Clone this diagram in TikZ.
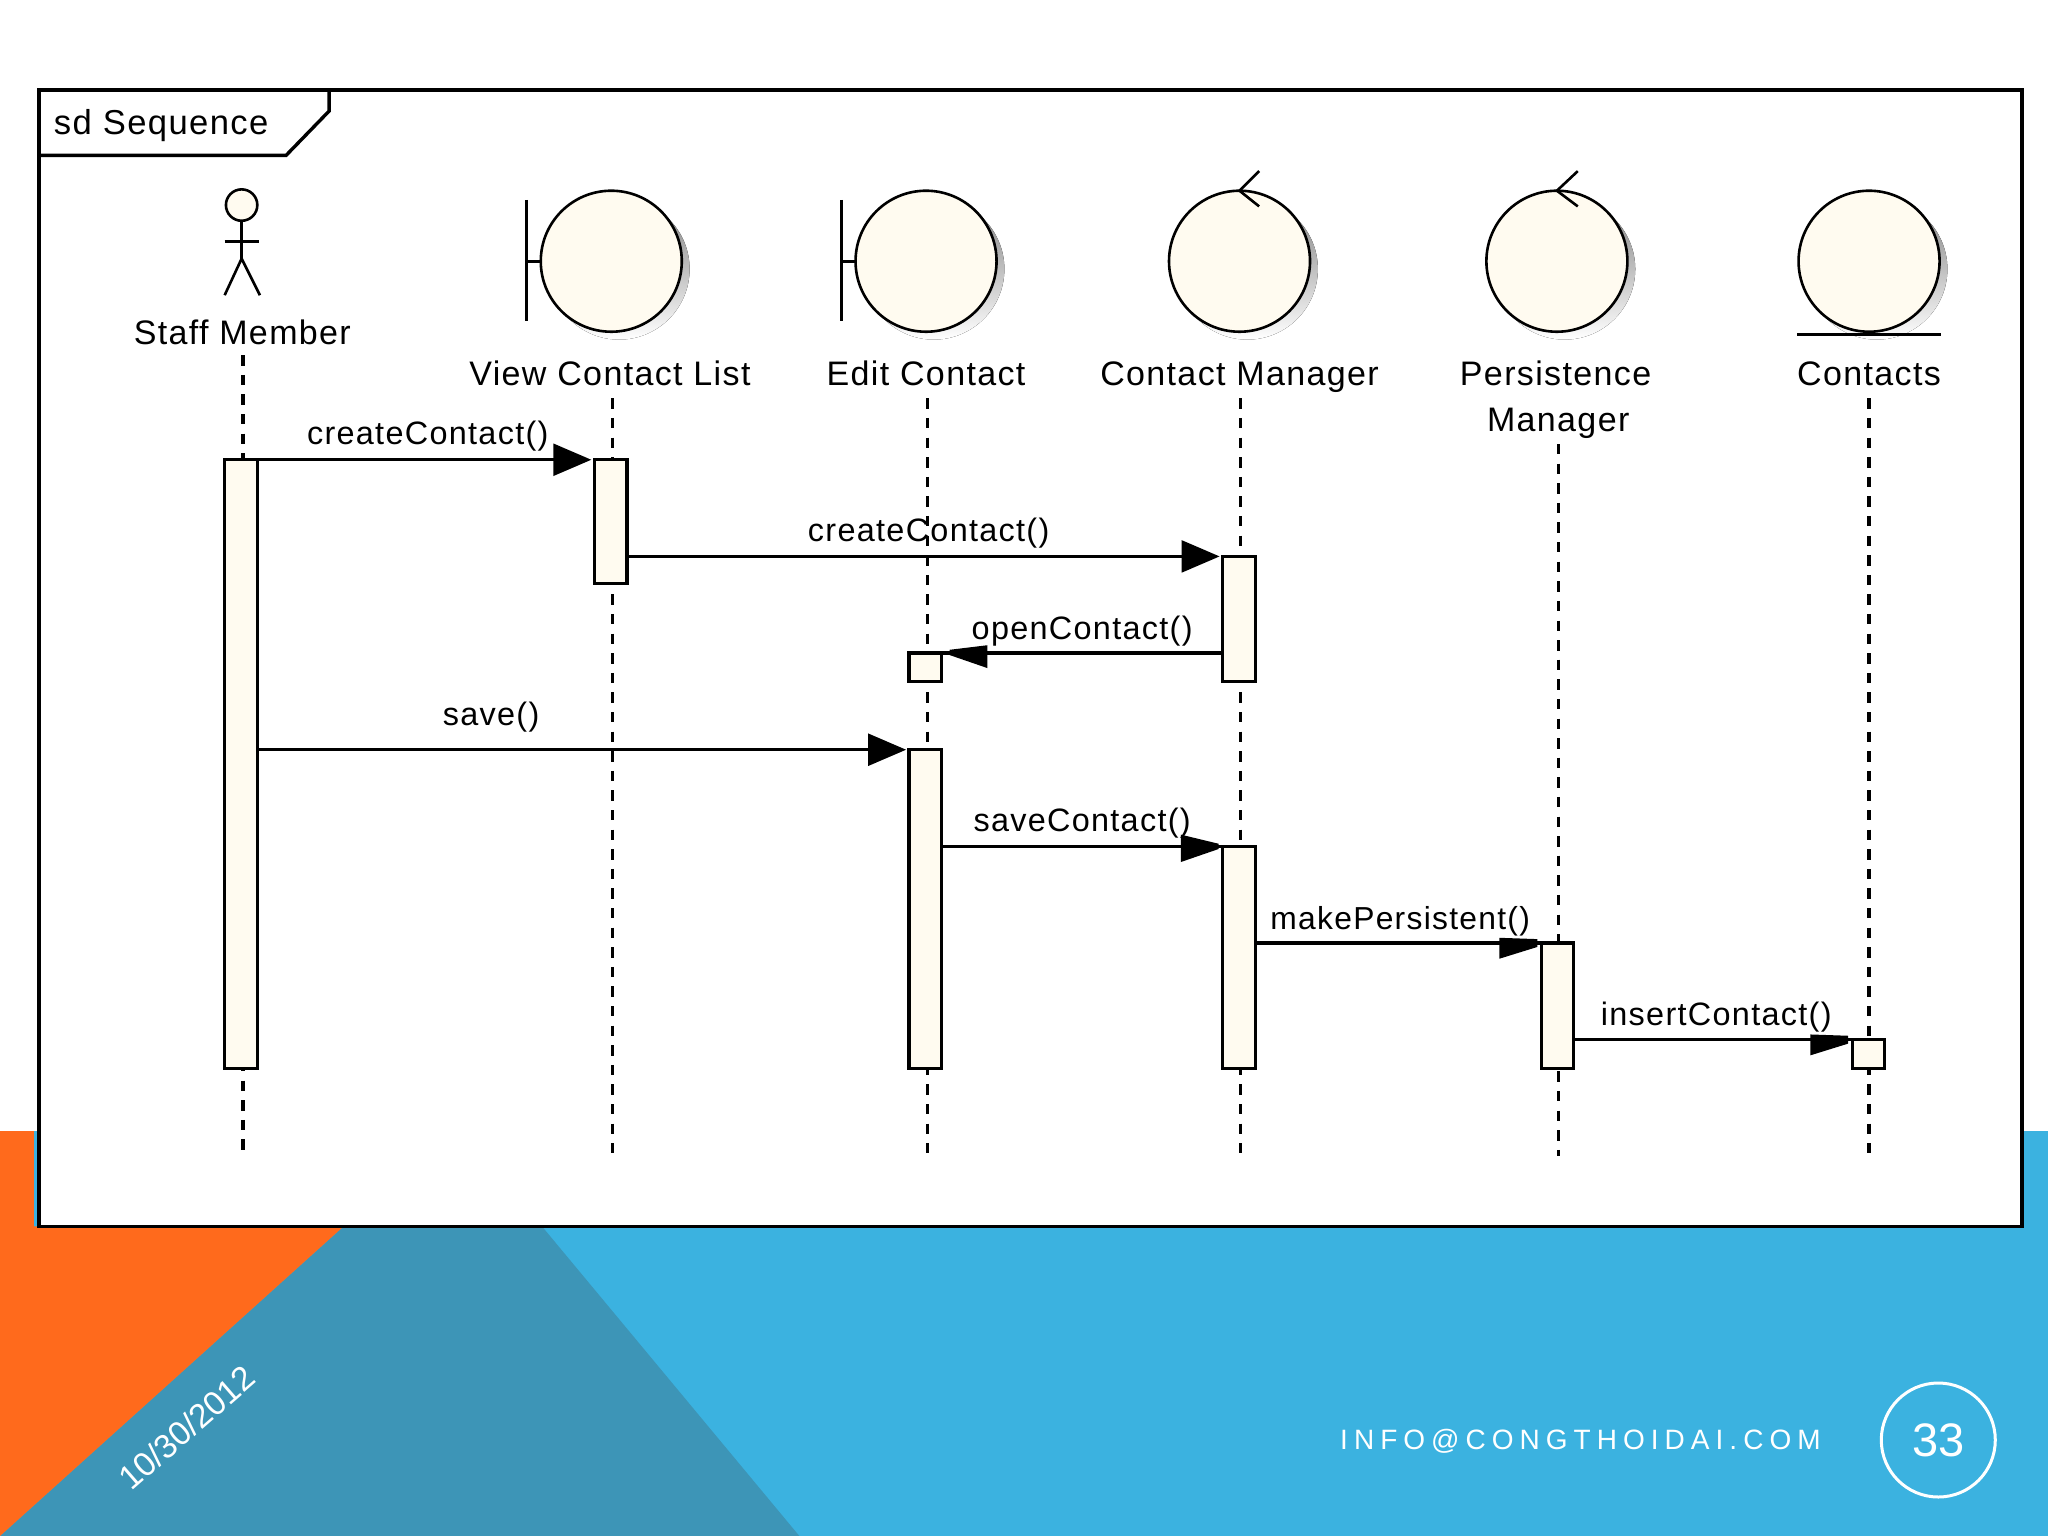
\documentclass[tikz,border=0pt]{standalone}
\usepackage{fontspec}
\usetikzlibrary{arrows.meta,calc}
\setmainfont{Liberation Sans}
\newfontfamily\umlfont[LetterSpace=4]{Liberation Sans}
\newfontfamily\mailfont[LetterSpace=21.5]{Liberation Sans}
\definecolor{slideorange}{HTML}{FF6A1C}
\definecolor{slideblue}{HTML}{3BB2E0}
\definecolor{slideteal}{HTML}{3D95B7}
\definecolor{cream}{HTML}{FFFBF0}
\definecolor{shade}{HTML}{BEBEBE}
\tikzset{
  x=0.653pt,y=-0.653pt,
  umlline/.style={black,line width=1.6pt},
  lifeline/.style={umlline,dash pattern=on 5.2pt off 4.6pt},
  actbox/.style={draw=black,line width=1.6pt,fill=cream,minimum width=16.3pt,inner sep=0pt,outer sep=0pt},
  classcircle/.style={circle,draw=black,line width=1.3pt,fill=cream,minimum size=70.5pt,inner sep=0pt,outer sep=0pt},
  umllabel/.style={font=\umlfont\fontsize{17}{20}\selectfont,inner sep=0pt,text=black,anchor=center,text height=12.3pt,text depth=0pt},
  msglabel/.style={umllabel,font=\umlfont\fontsize{16.2}{20}\selectfont},
  msg/.style={umlline,-{Triangle[length=19pt,width=16pt,line width=1.2pt]},shorten >=1.5pt},
  msgflat/.style={umlline},
  head/.style={fill=black,draw=none}
}
\newcommand{\activ}[4]{\node[actbox,minimum height={(#4-#3)*0.653pt}] (#1) at (#2,{(#3+#4)/2}) {};}
\newcommand{\ball}[2]{%
  \fill[shade] (#2,200)++(6,6) circle[radius=54];
  \node[classcircle] (#1) at (#2,200) {};}
\begin{document}
\begin{tikzpicture}
\useasboundingbox (0,0) rectangle (1568,1176);
% slide background
\fill[white] (0,0) rectangle (1568,1176);
\fill[slideblue] (0,866) rectangle (1568,1176);
\fill[slideteal] (263,939) -- (415,939) -- (612,1176) -- (0,1176) -- cycle;
\fill[slideorange] (0,866) -- (26,866) -- (26,939) -- (263,939) -- (0,1176) -- cycle;
% frame
\node[draw=black,line width=1.7pt,fill=white,minimum width={1518*0.653pt},minimum height={870*0.653pt},inner sep=0pt,outer sep=0pt] (frame) at (789,504) {};
\draw[line width=1.7pt] (30,119) -- (219,119) -- (252,85) -- (252,69);
\node[umllabel,anchor=west,font=\umlfont\fontsize{17.3}{20}\selectfont] (tag) at (41,93.5) {sd Sequence};
% actor
\node[circle,draw=black,line width=1.3pt,fill=cream,minimum size=15.7pt,inner sep=0pt,outer sep=0pt] (head) at (185,157) {};
\coordinate (hip) at (185,198);
\coordinate (armL) at (172,185);
\coordinate (armR) at (198,185);
\coordinate (legL) at (172,226);
\coordinate (legR) at (199,226);
\draw[umlline] (head.south) -- (hip);
\draw[umlline] (armL) -- (armR);
\draw[line width=1.3pt] (legL) -- (hip) -- (legR);
% class symbols
\ball{vcl}{468}
\ball{edc}{709}
\ball{cmg}{949}
\ball{pmg}{1192}
\ball{cts}{1431}
\coordinate (b1t) at (403,153); \coordinate (b1b) at (403,246); \coordinate (b1m) at (403,200);
\coordinate (b2t) at (644,153); \coordinate (b2b) at (644,246); \coordinate (b2m) at (644,200);
\draw[umlline] (b1t) -- (b1b); \draw[umlline] (b1m) -- (vcl.west);
\draw[umlline] (b2t) -- (b2b); \draw[umlline] (b2m) -- (edc.west);
\coordinate (c1a) at (964,131); \coordinate (c1b) at (964,158);
\coordinate (c2a) at (1208,131); \coordinate (c2b) at (1208,158);
\draw[line width=1.3pt] (c1a) -- (cmg.north) -- (c1b);
\draw[line width=1.3pt] (c2a) -- (pmg.north) -- (c2b);
\coordinate (gl) at (1376,256); \coordinate (gr) at (1486,256);
\draw[umlline] (gl) -- (gr);
% labels
\node[umllabel] (lStaff) at (185.5,254.5) {Staff Member};
\node[umllabel] (lView) at (467,286) {View Contact List};
\node[umllabel] (lEdit) at (709,286) {Edit Contact};
\node[umllabel] (lCM) at (949,286) {Contact Manager};
\node[umllabel] (lPM) at (1191,286) {Persistence};
\node[umllabel] (lPM2) at (1193,321) {Manager};
\node[umllabel] (lCt) at (1431,286) {Contacts};
% lifelines
\coordinate (s1) at (186,272); \coordinate (e1) at (186,883);
\coordinate (s2) at (469,305); \coordinate (e2) at (469,883);
\coordinate (s3) at (710,305); \coordinate (e3) at (710,883);
\coordinate (s4) at (950,305); \coordinate (e4) at (950,883);
\coordinate (s5) at (1193,340); \coordinate (e5) at (1193,885);
\coordinate (s6) at (1431,305); \coordinate (e6) at (1431,883);
\foreach \i in {1,...,6} {\draw[lifeline] (s\i) -- (e\i);}
% activations
\activ{a1}{184.5}{352}{818}
\activ{a2}{467.5}{352}{447}
\activ{a3}{948.5}{426}{522}
\activ{a4}{708.5}{500}{522}
\activ{a5}{708.5}{574}{818}
\activ{a6}{948.5}{648}{818}
\activ{a7}{1192.5}{722}{818}
\activ{a8}{1430.5}{796}{818}
% messages
\draw[msg] (a1.north east) -- (a2.north west);
\draw[msg] (a2.east |- a3.north) -- (a3.north west);
\draw[msgflat] (a3.west |- a4.north) -- (a4.north east);
\draw[msg] (a1.east |- a5.north) -- (a5.north west);
\draw[msgflat] (a5.east |- a6.north) -- (a6.north west);
\draw[msgflat] (a6.east |- a7.north) -- (a7.north west);
\draw[msgflat] (a7.east |- a8.north) -- (a8.north west);
% clipped heads
\fill[head] ($(a4.north east)+(6,-2.5)$) -- ++(29,-3.5) -- ++(0,17.5) -- ++(-29,-10) -- cycle;
\fill[head] ($(a6.north west)+(-3,-2)$) -- ++(-29,-7) -- ++(0,21) -- ++(29,-10) -- cycle;
\fill[head] ($(a7.north west)+(-3,-3)$) -- ++(-29,-1) -- ++(0,16) -- ++(29,-9) -- cycle;
\fill[head] ($(a8.north west)+(-3,-3)$) -- ++(-29,-1) -- ++(0,16) -- ++(29,-9) -- cycle;
% message labels
\node[msglabel] (m1) at (327.5,331) {createContact()};
\node[msglabel] (m2) at (711,405) {createContact()};
\node[msglabel] (m3) at (828.5,480) {openContact()};
\node[msglabel] (m4) at (376,546) {save()};
\node[msglabel] (m5) at (828.5,627) {saveContact()};
\node[msglabel,font=\umlfont\fontsize{15.9}{20}\selectfont] (m6) at (1072,702) {makePersistent()};
\node[msglabel] (m7) at (1314,776) {insertContact()};
% footer
\node[font=\fontsize{16.8}{20}\selectfont,text=white,rotate=41,inner sep=0pt] (date) at (143,1093) {10/30/2012};
\node[font=\mailfont\fontsize{14}{16}\selectfont,text=white,inner sep=0pt,text height=10pt,text depth=0pt] (mail) at (1210,1102) {INFO@CONGTHOIDAI.COM};
\node[circle,draw=white,line width=1.5pt,minimum size=57pt,inner sep=0pt,font=\fontsize{23.5}{28}\selectfont,text=white] (page) at (1484,1102.5) {33};
\end{tikzpicture}
\end{document}
